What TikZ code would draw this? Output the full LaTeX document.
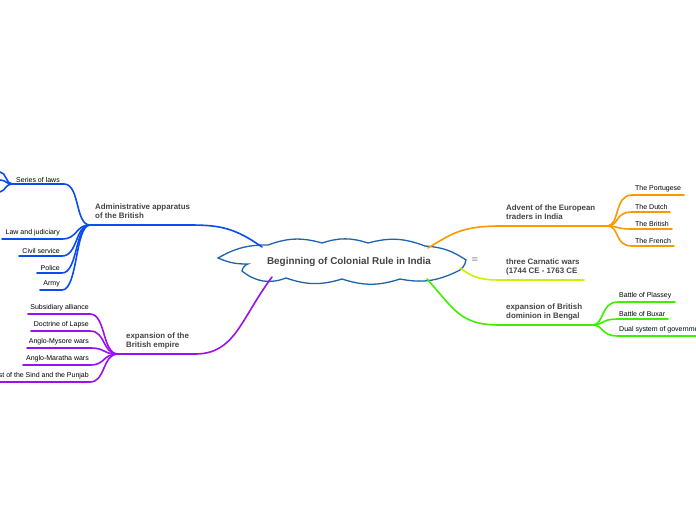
\documentclass[tikz,border=0pt]{standalone}
\usepackage{fontspec}
\setmainfont{Liberation Sans}
\definecolor{cb}{HTML}{0A4CF0}
\definecolor{cp}{HTML}{9A10EE}
\definecolor{co}{HTML}{F99A00}
\definecolor{cy}{HTML}{CCF000}
\definecolor{cg}{HTML}{3EF000}
\definecolor{ct}{HTML}{444444}
\definecolor{cc}{HTML}{1E64AA}
\begin{document}
\begin{tikzpicture}[x=1pt,y=-1pt,
 br/.style={line width=1.6pt,line cap=round},
 leaf/.style={font=\fontsize{7}{7}\selectfont,text=black,inner sep=0pt},
 main/.style={font=\bfseries\fontsize{7.9}{9}\selectfont,text=ct,align=left,inner sep=0pt,anchor=north west}]
\useasboundingbox (0,0) rectangle (696,520);
\clip (0,0) rectangle (696,520);
% central cloud
\draw[cc,line width=1.3pt,fill=white]
 (218,258) to[bend left=15] (268,245) to[bend left=18] (322,243) to[bend left=18] (368,243)
 to[bend left=18] (425,246) to[bend left=15] (466,260) to[bend left=30] (456,272)
 to[bend left=18] (400,279) to[bend left=18] (342,279) to[bend left=18] (286,278)
 to[bend left=30] (242,271) to[bend left=30] (248,264) to[bend left=12] (218,258) -- cycle;
\node[font=\bfseries\fontsize{9.9}{10}\selectfont,text=ct] (ct) at (349,262) {Beginning of Colonial Rule in India};
\node[font=\fontsize{8}{8}\selectfont,text=ct] (ic) at (475,260) {$\equiv$};
% blue
\coordinate (hb) at (90,225);
\draw[cb,br] (262,247) .. controls (235,228) and (220,225) .. (190,225) -- (hb);
\node[main] (nb) at (95,204) {Administrative apparatus\\of the British};
\coordinate (sl) at (12,184);
\draw[cb,br] (hb) .. controls (75,225) and (80,184) .. (64,184) -- (sl);
\node[leaf,anchor=south west] (l1) at (16,182.5) {Series of laws};
\draw[cb,br] (sl) .. controls (6,184) and (6,172) .. (0,172);
\draw[cb,br] (sl) .. controls (6,184) and (6,180) .. (0,180);
\draw[cb,br] (sl) .. controls (6,184) and (6,190) .. (0,192);
\foreach \y/\x/\t [count=\i] in {239/2/Law and judiciary,256/19/Civil service,273/37/Police,290/40/Army}{
 \draw[cb,br] (hb) .. controls (75,225) and (78,\y) .. (62,\y) -- (\x,\y);
 \node[leaf,anchor=south east] (b\i) at (60,\y-2.5) {\t};}
% purple
\coordinate (hp) at (118,354);
\draw[cp,br] (272,277) .. controls (240,320) and (235,354) .. (195,354) -- (hp);
\node[main] (np) at (126,333) {expansion of the\\British empire};
\foreach \y/\x/\t [count=\i] in {314/28/Subsidiary alliance,331/31/Doctrine of Lapse,348/27/Anglo-Mysore wars,365/23/Anglo-Maratha wars,382/0/Conquest of the Sind and the Punjab}{
 \draw[cp,br] (hp) .. controls (102,354) and (106,\y) .. (90,\y) -- (\x,\y);
 \node[leaf,anchor=south east] (p\i) at (89,\y-2.5) {\t};}
% orange
\coordinate (ho) at (607,226);
\draw[co,br] (428,248) .. controls (450,235) and (460,226) .. (500,226) -- (ho);
\node[main] (no) at (506,205) {Advent of the European\\traders in India};
\foreach \y/\x/\t [count=\i] in {195/684/The Portugese,212/670/The Dutch,229/672/The British,246/674/The French}{
 \draw[co,br] (ho) .. controls (620,226) and (614,\y) .. (632,\y) -- (\x,\y);
 \node[leaf,anchor=south west] (o\i) at (635,\y-2.5) {\t};}
% yellow
\coordinate (hy) at (584,280);
\draw[cy,br] (460,268) .. controls (472,277) and (480,280) .. (500,280) -- (hy);
\node[main] (ny) at (506,259) {three Carnatic wars\\(1744 CE - 1763 CE};
% green
\coordinate (hg) at (592,325);
\draw[cg,br] (427,279) .. controls (455,310) and (460,325) .. (500,325) -- (hg);
\node[main] (ng) at (506,304) {expansion of British\\dominion in Bengal};
\foreach \y/\x/\t [count=\i] in {302/675/Battle of Plassey,319/668/Battle of Buxar,336/696/Dual system of government}{
 \draw[cg,br] (hg) .. controls (605,325) and (600,\y) .. (618,\y) -- (\x,\y);
 \node[leaf,anchor=south west] (g\i) at (619,\y-2.5) {\t};}
\end{tikzpicture}
\end{document}
